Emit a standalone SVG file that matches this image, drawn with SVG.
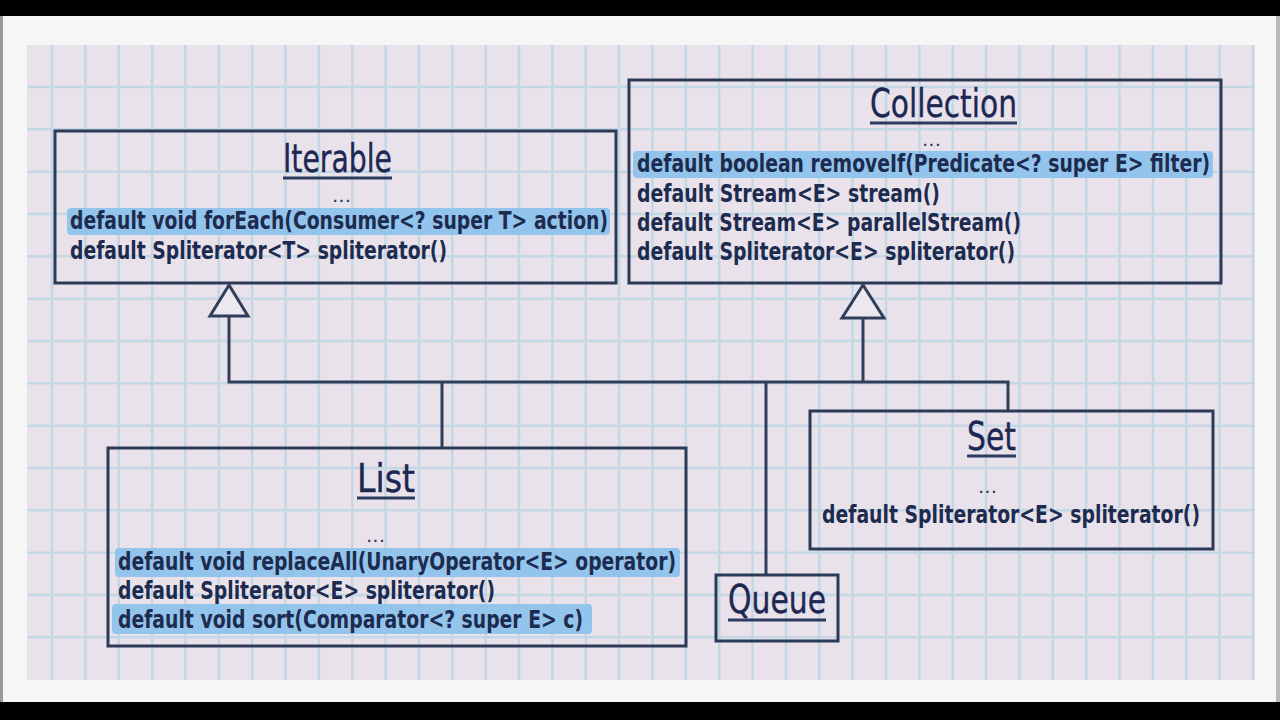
<svg xmlns="http://www.w3.org/2000/svg" width="1280" height="720" viewBox="0 0 1280 720">
<style>
.box{fill:none;stroke:#2b3a56;stroke-width:3}
.conn{fill:none;stroke:#2f3e5a;stroke-width:3}
.tri{fill:#ece8f0;stroke:#2f3e5a;stroke-width:3;stroke-linejoin:miter}
.title{font-family:"DejaVu Sans","Liberation Sans",sans-serif;font-size:39px;fill:#1c2752;stroke:#1c2752;stroke-width:0.4}
.ul{stroke:#2c3b60;stroke-width:3}
.body{font-family:"DejaVu Sans","Liberation Sans",sans-serif;font-size:25px;font-weight:bold;fill:#1d2b4f}
.dots{font-family:"DejaVu Sans","Liberation Sans",sans-serif;font-size:17px;fill:#2a3856}
.hl{fill:#93c4ec}
.grid{fill:none;stroke:#c4d7e5;stroke-width:2.5}
</style>
<rect x="0" y="0" width="1280" height="720" fill="#000"/>
<rect x="0" y="16" width="1280" height="686" fill="#f6f6f6"/>
<rect x="0" y="16" width="3" height="686" fill="#9a9a9a"/>
<rect x="1276" y="16" width="4" height="686" fill="#b8b8b8"/>
<g id="paper">
<rect x="27" y="45" width="1228" height="635" fill="#e9e2eb"/>
<path class="grid" d="M52,45V680M85.4,45V680M118.7,45V680M152.1,45V680M185.4,45V680M218.8,45V680M252.2,45V680M285.5,45V680M318.9,45V680M352.2,45V680M385.6,45V680M419,45V680M452.3,45V680M485.7,45V680M519,45V680M552.4,45V680M585.8,45V680M619.1,45V680M652.5,45V680M685.8,45V680M719.2,45V680M752.6,45V680M785.9,45V680M819.3,45V680M852.6,45V680M886,45V680M919.4,45V680M952.7,45V680M986.1,45V680M1019.4,45V680M1052.8,45V680M1086.2,45V680M1119.5,45V680M1152.9,45V680M1186.2,45V680M1219.6,45V680M1253,45V680M27,87H1255M27,129.3H1255M27,171.7H1255M27,214H1255M27,256.3H1255M27,298.7H1255M27,341H1255M27,383.3H1255M27,425.7H1255M27,468H1255M27,510.3H1255M27,552.7H1255M27,595H1255M27,637.3H1255"/>
</g>
<g id="connectors">
<path class="conn" d="M229,316V382H1008V411"/>
<path class="conn" d="M863,318V382"/>
<path class="conn" d="M442,382V448"/>
<path class="conn" d="M766,382V575"/>
<path class="tri" d="M229,285L248,316H210Z"/>
<path class="tri" d="M863,285L884,318H842Z"/>
</g>
<g id="iterable">
<rect class="box" x="55" y="131" width="561" height="152"/>
<rect class="hl" x="67" y="208" width="543" height="27" rx="4"/>
<text class="title" x="283" y="172" textLength="109" lengthAdjust="spacingAndGlyphs">Iterable</text>
<line class="ul" x1="283" y1="178" x2="392" y2="178"/>
<text class="dots" x="332" y="202" textLength="19" lengthAdjust="spacingAndGlyphs">...</text>
<text class="body" x="70" y="229" textLength="538" lengthAdjust="spacingAndGlyphs">default void forEach(Consumer&lt;? super T&gt; action)</text>
<text class="body" x="70" y="259" textLength="377" lengthAdjust="spacingAndGlyphs">default Spliterator&lt;T&gt; spliterator()</text>
</g>
<g id="collection">
<rect class="box" x="629" y="80" width="592" height="203"/>
<rect class="hl" x="633" y="151" width="580" height="27" rx="4"/>
<text class="title" x="870" y="117" textLength="147" lengthAdjust="spacingAndGlyphs">Collection</text>
<line class="ul" x1="870" y1="123" x2="1017" y2="123"/>
<text class="dots" x="922" y="146" textLength="19" lengthAdjust="spacingAndGlyphs">...</text>
<text class="body" x="637" y="172" textLength="573" lengthAdjust="spacingAndGlyphs">default boolean removeIf(Predicate&lt;? super E&gt; filter)</text>
<text class="body" x="637" y="202" textLength="303" lengthAdjust="spacingAndGlyphs">default Stream&lt;E&gt; stream()</text>
<text class="body" x="637" y="231" textLength="384" lengthAdjust="spacingAndGlyphs">default Stream&lt;E&gt; parallelStream()</text>
<text class="body" x="637" y="260" textLength="378" lengthAdjust="spacingAndGlyphs">default Spliterator&lt;E&gt; spliterator()</text>
</g>
<g id="list">
<rect class="box" x="108" y="448" width="578" height="198"/>
<rect class="hl" x="115" y="548" width="565" height="29" rx="4"/>
<rect class="hl" x="112" y="604" width="480" height="30" rx="4"/>
<text class="title" x="357" y="492" textLength="58" lengthAdjust="spacingAndGlyphs">List</text>
<line class="ul" x1="357" y1="498" x2="415" y2="498"/>
<text class="dots" x="366" y="542" textLength="19" lengthAdjust="spacingAndGlyphs">...</text>
<text class="body" x="118" y="570" textLength="558" lengthAdjust="spacingAndGlyphs">default void replaceAll(UnaryOperator&lt;E&gt; operator)</text>
<text class="body" x="118" y="599" textLength="377" lengthAdjust="spacingAndGlyphs">default Spliterator&lt;E&gt; spliterator()</text>
<text class="body" x="118" y="628" textLength="465" lengthAdjust="spacingAndGlyphs">default void sort(Comparator&lt;? super E&gt; c)</text>
</g>
<g id="set">
<rect class="box" x="810" y="411" width="403" height="138"/>
<text class="title" x="967" y="450" textLength="49" lengthAdjust="spacingAndGlyphs">Set</text>
<line class="ul" x1="967" y1="456" x2="1016" y2="456"/>
<text class="dots" x="978" y="493" textLength="19" lengthAdjust="spacingAndGlyphs">...</text>
<text class="body" x="822" y="523" textLength="378" lengthAdjust="spacingAndGlyphs">default Spliterator&lt;E&gt; spliterator()</text>
</g>
<g id="queue">
<rect class="box" x="716" y="575" width="122" height="66"/>
<text class="title" x="728" y="613" textLength="98" lengthAdjust="spacingAndGlyphs">Queue</text>
<line class="ul" x1="728" y1="620" x2="826" y2="620"/>
</g>
</svg>
